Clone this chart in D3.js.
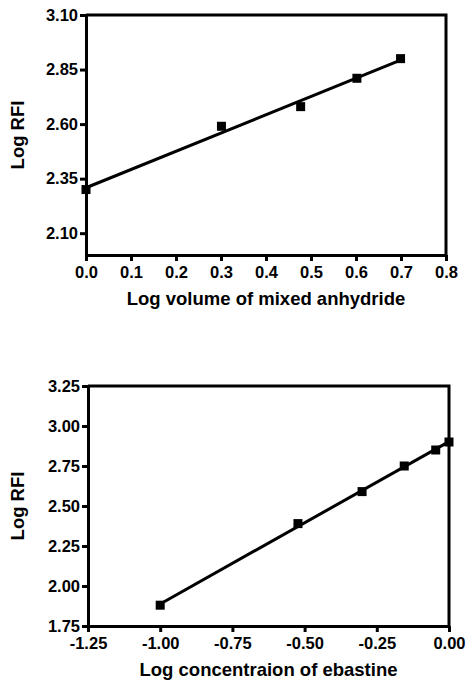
<!DOCTYPE html><html><head><meta charset="utf-8"><script src="https://cdn.jsdelivr.net/npm/d3@7"></script>
<style>body{margin:0;background:#fff}text{font-family:"Liberation Sans",Arial,sans-serif;font-weight:bold}</style></head><body>
<svg id="s" width="474" height="691"></svg>
<script>
const xTop=[0,0.301,0.477,0.602,0.699];
const yTop=[2.30,2.59,2.68,2.81,2.90];
const xTopTicks=[0,0.1,0.2,0.3,0.4,0.5,0.6,0.7,0.8];
const yTopTicks=[2.10,2.35,2.60,2.85,3.10];
const xBot=[-1,-0.523,-0.301,-0.155,-0.046,0];
const yBot=[1.88,2.39,2.59,2.75,2.85,2.90];
const xBotTicks=[-1.25,-1,-0.75,-0.5,-0.25,0];
const yBotTicks=[1.75,2.00,2.25,2.50,2.75,3.00,3.25];
const svg=d3.select("#s");
function fit(xs,ys){const n=xs.length,mx=d3.mean(xs),my=d3.mean(ys);let a=0,b=0;for(let i=0;i<n;i++){a+=(xs[i]-mx)*(ys[i]-my);b+=(xs[i]-mx)**2;}const m=a/b;return [m,my-m*mx];}
function panel(o){
  const x=d3.scaleLinear().domain(o.xd).range([o.l,o.r]);
  const y=d3.scaleLinear().domain(o.yd).range([o.b,o.t]);
  const g=svg.append("g");
  const fx=d3.format(o.xf);
  const ax=g.append("g").attr("transform",`translate(0,${o.b})`).call(d3.axisBottom(x).tickValues(o.xt).tickFormat(d=>fx(d).replace("\u2212","-")).tickSize(6).tickSizeOuter(0));
  const ay=g.append("g").attr("transform",`translate(${o.l},0)`).call(d3.axisLeft(y).tickValues(o.yt).tickFormat(d3.format(".2f")).tickSize(6).tickSizeOuter(0));
  [ax,ay].forEach(a=>{a.selectAll("path,line").attr("stroke","#000").attr("stroke-width",3);a.selectAll("text").attr("font-size",16.5).attr("fill","#000").style("font-weight","bold");});
  ay.selectAll("text").attr("x",-8);ax.selectAll("text").attr("y",11);
  g.append("path").attr("d",`M${o.l},${o.t}H${o.r}V${o.b}`).attr("fill","none").attr("stroke","#000").attr("stroke-width",3);
  const [m,c]=fit(o.xs,o.ys);const x0=d3.min(o.xs),x1=d3.max(o.xs);
  g.append("line").attr("x1",x(x0)).attr("y1",y(m*x0+c)).attr("x2",x(x1)).attr("y2",y(m*x1+c)).attr("stroke","#000").attr("stroke-width",3);
  g.selectAll("rect.p").data(o.xs).enter().append("rect").attr("x",(d)=>x(d)-4.5).attr("y",(d,i)=>y(o.ys[i])-4.5).attr("width",9).attr("height",9).attr("fill","#000");
  g.append("text").attr("x",(o.l+o.r)/2).attr("y",o.b+50).attr("text-anchor","middle").attr("font-size",18.5).text(o.xl);
  g.append("text").attr("transform",`translate(24,${(o.t+o.b)/2}) rotate(-90)`).attr("text-anchor","middle").attr("font-size",18.5).text("Log RFI");
}
panel({xd:[0,0.8],yd:[2.0,3.1],l:86,r:446,t:15,b:255,xt:xTopTicks,yt:yTopTicks,xf:".1f",xs:xTop,ys:yTop,xl:"Log volume of mixed anhydride"});
panel({xd:[-1.25,0],yd:[1.75,3.25],l:88,r:449,t:386,b:626,xt:xBotTicks,yt:yBotTicks,xf:".2f",xs:xBot,ys:yBot,xl:"Log concentraion of ebastine"});
</script></body></html>
